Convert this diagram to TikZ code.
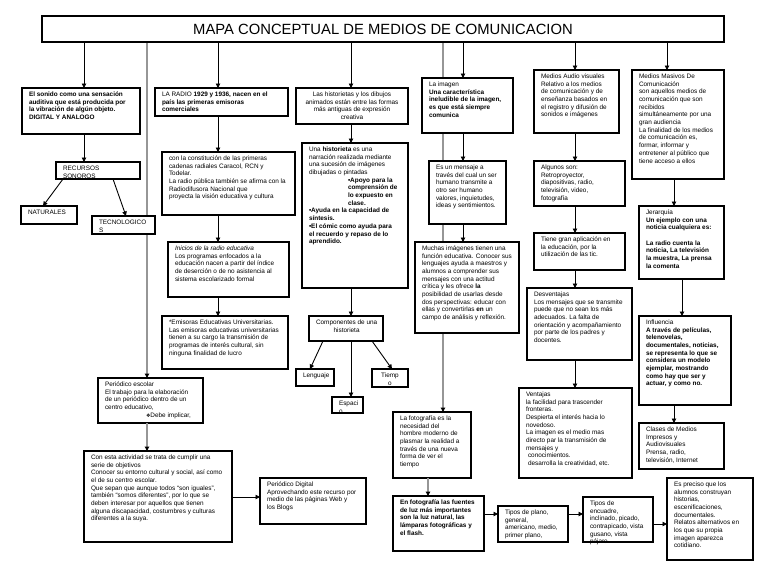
\documentclass[tikz,border=0pt]{standalone}
\usepackage{fontspec}
\setmainfont{Liberation Sans}
\newfontfamily\symf{DejaVu Sans}
\usetikzlibrary{arrows.meta,calc}
\pgfdeclarelayer{bg}
\pgfsetlayers{bg,main}
\definecolor{gline}{RGB}{150,150,150}
\newcommand{\bt}[3]{\parbox[c][#2pt][t]{#1pt}{\begin{tabular}[t]{@{}l@{}}#3\end{tabular}}}
\newcommand{\bc}[3]{\parbox[c][#2pt][t]{#1pt}{\centering\begin{tabular}[t]{@{}c@{}}#3\end{tabular}}}
\tikzset{
  box/.style={draw, fill=white, line width=1.1pt, anchor=north west, inner xsep=7pt, inner ysep=3pt, outer sep=0pt, font=\fontsize{6.4}{7.7}\selectfont},
  arr/.style={line width=0.9pt, -{Triangle[length=4.5pt,width=4.5pt]}},
  garr/.style={line width=1.6pt, draw=gline, -{Triangle[length=4.5pt,width=4.5pt,color=black]}}
}
\begin{document}
\begin{tikzpicture}[x=1pt,y=-1pt]
\useasboundingbox (0,0) rectangle (768,576);

\node[draw, fill=white, line width=1.1pt, minimum width=682pt, minimum height=26pt, anchor=north west, inner sep=0pt, outer sep=0pt, font=\fontsize{14.8}{16}\selectfont] (title) at (42,16) {MAPA CONCEPTUAL DE MEDIOS DE COMUNICACION};

% column 1
\node[box] (sonido) at (22,88) {\bt{104}{40}{\textbf{El sonido como una sensación}\\\textbf{auditiva que está producida por}\\\textbf{la vibración de algún objeto.}\\\textbf{DIGITAL Y ANALOGO}}};
\node[box] (recursos) at (56,162) {\bt{70}{11}{RECURSOS\\SONOROS}};
\node[box] (naturales) at (21,206) {\bt{42}{12}{NATURALES}};
\node[box] (tecno) at (92,216) {\bt{49}{12}{TECNOLOGICO\\S}};

% column 2
\node[box] (radio) at (155,88) {\bt{119}{22}{LA RADIO \textbf{1929 y 1936, nacen en el}\\\textbf{país las primeras emisoras}\\\textbf{comerciales}}};
\node[box] (constitucion) at (162,152) {\bt{119}{57}{con la constitución de las primeras\\cadenas radiales Caracol, RCN y\\Todelar.\\La radio pública también se afirma con la\\Radiodifusora Nacional que\\proyecta la visión educativa y cultura}};
\node[box] (inicios) at (168,242) {\bt{107}{49}{\textit{Inicios de la radio educativa}\\Los programas enfocados a la\\educación nacen a partir del índice\\de deserción o de no asistencia al\\sistema escolarizado formal}};
\node[box] (emisoras) at (162,316) {\bt{112}{47}{*Emisoras Educativas Universitarias.\\Las emisoras educativas universitarias\\tienen a su cargo la transmisión de\\programas de interés cultural, sin\\ninguna finalidad de lucro}};

% column 3
\node[box] (historietas) at (296,88) {\bc{98}{30}{Las historietas y los dibujos\\animados están entre las formas\\más antiguas de expresión\\creativa}};
\node[box] (historieta) at (302,143) {\bt{92}{139}{Una \textbf{historieta} es una\\narración realizada mediante\\una sucesión de imágenes\\dibujadas o pintadas\\\hspace*{39pt}\textbf{•Apoyo para la}\\\hspace*{39pt}\textbf{comprensión de}\\\hspace*{39pt}\textbf{lo expuesto en}\\\hspace*{39pt}\textbf{clase.}\\\textbf{•Ayuda en la capacidad de}\\\textbf{síntesis.}\\\textbf{•El cómic como ayuda para}\\\textbf{el recuerdo y repaso de lo}\\\textbf{aprendido.}}};
\node[box] (componentes) at (309,316) {\bc{60}{19}{Componentes de una\\historieta}};
\node[box] (lenguaje) at (296,369) {\bc{24}{11}{Lenguaje}};
\node[box] (tiempo) at (372,369) {\bc{22}{12}{Tiemp\\o}};
\node[box] (espacio) at (332,397) {\bt{17}{10}{Espaci\\o}};

% column 4
\node[box] (imagen) at (422,78) {\bt{77}{49}{La imagen\\\textbf{Una característica}\\\textbf{ineludible de la imagen,}\\\textbf{es que está siempre}\\\textbf{comunica}}};
\node[box] (mensaje) at (429,161) {\bt{63}{57}{Es un mensaje a\\través del cual un ser\\humano transmite a\\otro ser humano\\valores, inquietudes,\\ideas y sentimientos.}};
\node[box] (muchas) at (415,242) {\bt{90}{85}{Muchas imágenes tienen una\\función educativa. Conocer sus\\lenguajes ayuda a maestros y\\alumnos a comprender sus\\mensajes con una actitud\\crítica y les ofrece \textbf{la}\\posibilidad de usarlas desde\\dos perspectivas: educar con\\ellas y convertirlas \textbf{en} un\\campo de análisis y reflexión.}};
\node[box] (foto) at (393,412) {\bt{64}{60}{La fotografía es la\\necesidad del\\hombre moderno de\\plasmar la realidad  a\\través de una nueva\\forma de ver el\\tiempo}};
\node[box] (fuentes) at (393,496) {\bt{77}{49}{\textbf{En fotografía las fuentes}\\\textbf{de luz más importantes}\\\textbf{son la luz natural, las}\\\textbf{lámparas fotográficas y}\\\textbf{el flash.}}};
\node[box] (plano) at (498,506) {\bt{56}{30}{Tipos de plano,\\general,\\americano, medio,\\primer plano,}};
\node[box] (encuadre) at (583,497) {\bt{56}{39}{Tipos de\\encuadre,\\inclinado, picado,\\contrapicado, vista\\gusano, vista\\pájaro}};
\node[box] (preciso) at (667,478) {\bt{72}{76}{Es preciso que los\\alumnos construyan\\historias,\\escenificaciones,\\documentales.\\Relatos alternativos en\\los que su propia\\imagen aparezca\\cotidiano.}};

% column 5
\node[box] (audio) at (534,70) {\bt{71}{57}{Medios Audio visuales\\Relativo a los medios\\de comunicación y de\\enseñanza basados en\\el registro y difusión de\\sonidos e imágenes}};
\node[box] (algunos) at (534,161) {\bt{77}{39}{Algunos son:\\Retroproyector,\\diapositivas, radio,\\televisión, video,\\fotografía}};
\node[box] (tiene) at (534,233) {\bt{77}{31}{Tiene gran aplicación en\\la educación, por la\\utilización de las tic.}};
\node[box] (desventajas) at (527,288) {\bt{91}{66}{Desventajas\\Los mensajes que se transmite\\puede que no sean los más\\adecuados. La falta de\\orientación y acompañamiento\\por parte de los padres y\\docentes.}};
\node[box] (ventajas) at (519,388) {\bt{99}{84}{Ventajas\\la facilidad para trascender\\fronteras.\\Despierta el interés hacia lo\\novedoso.\\La imagen es el medio mas\\directo par la  transmisión de\\mensajes y\\\hspace*{2pt}conocimientos.\\\hspace*{2pt}desarrolla la creatividad, etc.}};

% column 6
\node[box] (masivos) at (632,70) {\bt{78}{103}{Medios Masivos De\\Comunicación\\son aquellos medios de\\comunicación que son\\recibidos\\simultáneamente por una\\gran audiencia\\La finalidad de los medios\\de comunicación es,\\formar, informar y\\entretener al público que\\tiene acceso a ellos}};
\node[box] (jerarquia) at (639,206) {\bt{71}{67}{Jerarquía\\\textbf{Un ejemplo con una}\\\textbf{noticia cualquiera es:}\\ \\\textbf{La radio cuenta la}\\\textbf{noticia, La televisión}\\\textbf{la muestra, La prensa}\\\textbf{la comenta}}};
\node[box] (influencia) at (639,316) {\bt{78}{83}{Influencia\\\textbf{A través de películas,}\\\textbf{telenovelas,}\\\textbf{documentales, noticias,}\\\textbf{se representa lo que se}\\\textbf{considera un modelo}\\\textbf{ejemplar, mostrando}\\\textbf{como hay que ser y}\\\textbf{actuar, y como no.}}};
\node[box] (clases) at (639,423) {\bt{71}{40}{Clases de Medios\\Impresos y\\Audiovisuales\\Prensa, radio,\\televisión, Internet}};

% bottom left
\node[box] (pe) at (98,378) {\bt{91}{39}{Periódico escolar\\El trabajo para la elaboración\\de un periódico dentro de un\\centro educativo,\\\hspace*{41pt}{\symf\fontsize{5}{6}\selectfont ❖}Debe implicar,}};
\node[box] (actividad) at (84,451) {\bt{134}{85}{Con esta actividad se trata de cumplir una\\serie de objetivos\\Conocer su entorno cultural y social, así como\\el de su centro escolar.\\Que sepan que aunque todos “son iguales”,\\también “somos diferentes”, por lo que se\\deben interesar por aquellos que tienen\\alguna discapacidad, costumbres y culturas\\diferentes a la suya.}};
\node[box] (digital) at (260,478) {\bt{92}{40}{Periódico Digital\\Aprovechando este recurso por\\medio de las páginas Web y\\los Blogs}};

% coordinates
\coordinate (c1) at ($(sonido.north)+(3,0)$);
\coordinate (c2) at ($(radio.north)+(-3.5,0)$);
\coordinate (c3) at ($(historietas.north)+(-1,0)$);
\coordinate (c4) at ($(imagen.north)+(-4.5,0)$);
\coordinate (c5) at ($(audio.north)+(-1.5,0)$);
\coordinate (c6) at ($(masivos.north)+(-11,0)$);
\coordinate (c7) at ($(jerarquia.north)+(-7.5,0)$);
\coordinate (c8) at ($(influencia.north)+(-3,0)$);
\coordinate (c9) at ($(clases.north)+(-7.5,0)$);
\coordinate (g1) at ($(pe.north)+(-3.5,0)$);
\coordinate (g2) at ($(foto.north)+(11,0)$);
\coordinate (g3) at ($(foto.south)+(-4,0)$);
\coordinate (h1) at ($(plano.north west)+(0,8)$);
\coordinate (h2) at ($(encuadre.north west)+(0,17)$);
\coordinate (h3) at ($(preciso.north west)+(0,46)$);
\coordinate (h4) at ($(digital.north west)+(0,19)$);

% white page and gray lines behind boxes
\begin{pgfonlayer}{bg}
\fill[white] (0,0) rectangle (768,576);
\draw[garr] (g1 |- title.south) -- (g1);
\draw[garr] (g2 |- title.south) -- (g2);
\end{pgfonlayer}
\draw[garr] (g1 |- pe.south) -- (g1 |- actividad.north);
\draw[garr] (g3) -- (g3 |- fuentes.north);

% black arrows
\draw[arr] (c1 |- title.south) -- (c1);
\draw[arr] (c1 |- sonido.south) -- (c1 |- recursos.north);
\draw[arr] ($(recursos.south west)+(7,0)$) -- ($(naturales.north)+(-6,0)$);
\draw[arr] ($(recursos.south west)+(57,0)$) -- ($(tecno.north)+(2.5,0)$);

\draw[arr] (c2 |- title.south) -- (c2);
\draw[arr] (c2 |- radio.south) -- (c2 |- constitucion.north);
\draw[arr] (c2 |- constitucion.south) -- (c2 |- inicios.north);
\draw[arr] (c2 |- inicios.south) -- (c2 |- emisoras.north);

\draw[arr] (c3 |- title.south) -- (c3);
\draw[arr] (c3 |- historietas.south) -- (c3 |- historieta.north);
\draw[arr] (c3 |- historieta.south) -- (c3 |- componentes.north);
\draw[arr] ($(componentes.south west)+(14,0)$) -- ($(lenguaje.north)+(-5,0)$);
\draw[arr] ($(componentes.south west)+(63,0)$) -- ($(tiempo.north)+(2,0)$);
\draw[arr] (c3 |- componentes.south) -- (c3 |- espacio.north);

\draw[arr] (c4 |- title.south) -- (c4);
\draw[arr] (c4 |- imagen.south) -- (c4 |- mensaje.north);
\draw[arr] (c4 |- mensaje.south) -- (c4 |- muchas.north);

\draw[arr] (h1 -| fuentes.east) -- (h1);
\draw[arr] (h2 -| plano.east) -- (h2);
\draw[arr] (h3 -| encuadre.east) -- (h3);

\draw[arr] (c5 |- title.south) -- (c5);
\draw[arr] (c5 |- audio.south) -- (c5 |- algunos.north);
\draw[arr] (c5 |- algunos.south) -- (c5 |- tiene.north);
\draw[arr] (c5 |- tiene.south) -- (c5 |- desventajas.north);
\draw[arr] (c5 |- desventajas.south) -- (c5 |- ventajas.north);

\draw[arr] (c6 |- title.south) -- (c6);
\draw[arr] (c7 |- masivos.south) -- (c7);
\draw[arr] (c8 |- jerarquia.south) -- (c8);
\draw[arr] (c9 |- influencia.south) -- (c9);

\draw[arr] (h4 -| actividad.east) -- (h4);
\end{tikzpicture}
\end{document}
